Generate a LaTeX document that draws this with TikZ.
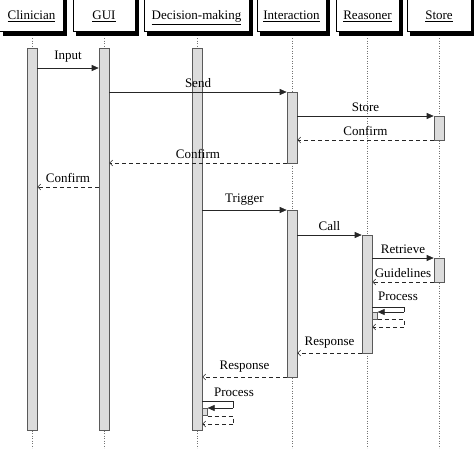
\documentclass[tikz,border=0pt]{standalone}
\usepackage{fontspec}
\setmainfont{Liberation Serif}
\usetikzlibrary{arrows.meta,backgrounds}
\definecolor{barfill}{HTML}{DCDCDC}
\definecolor{barline}{HTML}{5A5A5A}
\begin{document}
\begin{tikzpicture}[x=1pt,y=-1pt,
  hdrbox/.style={draw=black, fill=white, line width=0.6pt, minimum height=45pt, inner sep=0pt, anchor=south},
  hdrshade/.style={fill=black},
  hdrtext/.style={font=\fontsize{13}{15}\selectfont, inner sep=0pt, anchor=base},
  bar/.style={draw=barline, fill=barfill, line width=0.6pt, minimum width=10pt, inner sep=0pt, anchor=north},
  subbar/.style={draw=barline, fill=barfill, line width=0.6pt, minimum width=5pt, minimum height=7pt, inner sep=0pt, anchor=north west},
  life/.style={draw=black!55, dotted, line width=0.5pt},
  msg/.style={-{Triangle[length=7pt,width=6pt]}, line width=0.6pt, draw=black!85},
  ret/.style={-{Straight Barb[length=3pt,width=6pt]}, line width=0.6pt, draw=black!85, dash pattern=on 4pt off 3pt},
  selfline/.style={line width=0.6pt, draw=black!85},
  selfret/.style={line width=0.6pt, draw=black!85, dash pattern=on 4pt off 3pt},
  lbl/.style={font=\fontsize{13}{15}\selectfont, inner sep=0pt}
]
\useasboundingbox (0,0) rectangle (474,448);

% header shadows (drawn first, behind the boxes)
\fill[hdrshade] (3,-13) rectangle (67,36);
\fill[hdrshade] (76,-13) rectangle (139,36);
\fill[hdrshade] (147,-13) rectangle (253,36);
\fill[hdrshade] (260,-13) rectangle (330,36);
\fill[hdrshade] (339,-13) rectangle (403,36);
\fill[hdrshade] (410,-13) rectangle (475,36);
% headers
\node[hdrbox, minimum width=64pt] (bClin) at (31.5,32) {};
\node[hdrbox, minimum width=62pt] (bGui) at (104,32) {};
\node[hdrbox, minimum width=105pt] (bDec) at (196.5,32) {};
\node[hdrbox, minimum width=69pt] (bInt) at (291.5,32) {};
\node[hdrbox, minimum width=63pt] (bRea) at (367.5,32) {};
\node[hdrbox, minimum width=64pt] (bSto) at (439,32) {};
\node[hdrtext] (tClin) at (31.5,19.5) {\underline{Clinician}};
\node[hdrtext] (tGui) at (104,19.5) {\underline{GUI}};
\node[hdrtext] (tDec) at (196.5,19.5) {\underline{Decision-making}};
\node[hdrtext] (tInt) at (291.5,19.5) {\underline{Interaction}};
\node[hdrtext] (tRea) at (367.5,19.5) {\underline{Reasoner}};
\node[hdrtext] (tSto) at (439,19.5) {\underline{Store}};

% lifelines
\coordinate (eClin) at (32,448);
\coordinate (eGui) at (104,448);
\coordinate (eDec) at (197,448);
\coordinate (eInt) at (292,448);
\coordinate (eRea) at (367,448);
\coordinate (eSto) at (439,448);
\draw[life] (eClin |- 0,38) -- (eClin);
\draw[life] (eGui |- 0,38) -- (eGui);
\draw[life] (eDec |- 0,38) -- (eDec);
\draw[life] (eInt |- 0,38) -- (eInt);
\draw[life] (eRea |- 0,38) -- (eRea);
\draw[life] (eSto |- 0,38) -- (eSto);

% activation bars
\node[bar, minimum height=382pt] (clinBar) at (32,48) {};
\node[bar, minimum height=382pt] (guiBar) at (104,48) {};
\node[bar, minimum height=382pt] (decBar) at (197,48) {};
\node[bar, minimum height=71pt] (intBarA) at (292,92) {};
\node[bar, minimum height=167pt] (intBarB) at (292,210) {};
\node[bar, minimum height=24pt] (stoBarA) at (439,116) {};
\node[bar, minimum height=118pt] (reaBar) at (367,235) {};
\node[bar, minimum height=24pt] (stoBarB) at (439,258) {};
\node[subbar] (reaSub) at (372,312) {};
\node[subbar] (decSub) at (202,408) {};

% messages
\draw[msg] (clinBar.east |- 0,68) -- (guiBar.west |- 0,68) node[lbl, midway, above=5pt] (lInput) {Input};
\draw[msg] (guiBar.east |- 0,92) -- (intBarA.west |- 0,92) node[lbl, midway, above=4pt] (lSend) {Send};
\draw[msg] (intBarA.east |- 0,116) -- (stoBarA.west |- 0,116) node[lbl, midway, above=4pt] (lStore) {Store};
\draw[ret] (stoBarA.west |- 0,140) -- (intBarA.east |- 0,140) node[lbl, midway, above=4pt] (lConf1) {Confirm};
\draw[ret] (intBarA.west |- 0,163) -- (guiBar.east |- 0,163) node[lbl, midway, above=4pt] (lConf2) {Confirm};
\draw[ret] (guiBar.west |- 0,187) -- (clinBar.east |- 0,187) node[lbl, midway, above=4pt] (lConf3) {Confirm};
\draw[msg] (decBar.east |- 0,210) -- (intBarB.west |- 0,210) node[lbl, midway, above=4pt] (lTrig) {Trigger};
\draw[msg] (intBarB.east |- 0,235) -- (reaBar.west |- 0,235) node[lbl, midway, above=4pt] (lCall) {Call};
\draw[msg] (reaBar.east |- 0,258) -- (stoBarB.west |- 0,258) node[lbl, midway, above=4pt] (lRetr) {Retrieve};
\draw[ret] (stoBarB.west |- 0,282) -- (reaBar.east |- 0,282) node[lbl, midway, above=4pt] (lGuid) {Guidelines};

% self message on Reasoner
\node[lbl] (lProc1) at (398,296) {Process};
\coordinate (rTurnA) at (404,307);
\coordinate (rTurnB) at (404,312);
\draw[selfline] (reaBar.east |- 0,307) -- (rTurnA) -- (rTurnB);
\draw[msg] (rTurnB) -- (reaSub.north east);
\coordinate (rRetA) at (404,319);
\coordinate (rRetB) at (404,327);
\draw[selfret] (reaSub.south east |- 0,319) -- (rRetA) -- (rRetB);
\draw[ret] (rRetB) -- (reaBar.east |- 0,327);

\draw[ret] (reaBar.west |- 0,353) -- (intBarB.east |- 0,353) node[lbl, midway, above=4pt] (lResp1) {Response};
\draw[ret] (intBarB.west |- 0,377) -- (decBar.east |- 0,377) node[lbl, midway, above=4pt] (lResp2) {Response};

% self message on Decision-making
\node[lbl] (lProc2) at (234,392) {Process};
\coordinate (dTurnA) at (233,401);
\coordinate (dTurnB) at (233,408);
\draw[selfline] (decBar.east |- 0,401) -- (dTurnA) -- (dTurnB);
\draw[msg] (dTurnB) -- (decSub.north east);
\coordinate (dRetA) at (233,416);
\coordinate (dRetB) at (233,424);
\draw[selfret] (decSub.south east |- 0,416) -- (dRetA) -- (dRetB);
\draw[ret] (dRetB) -- (decBar.east |- 0,424);
\end{tikzpicture}
\end{document}
